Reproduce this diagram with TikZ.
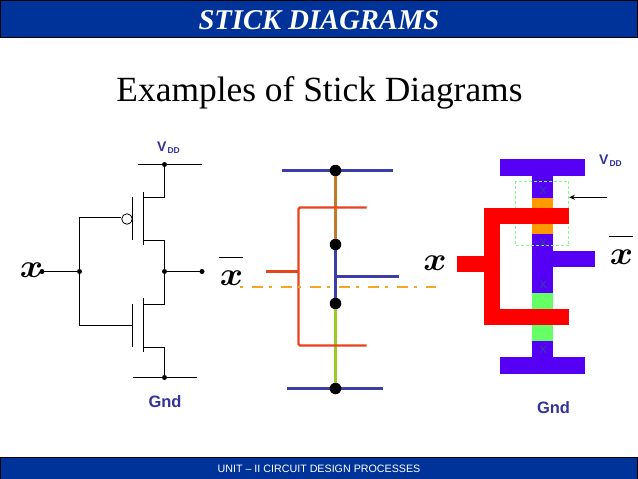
\documentclass[tikz,border=0pt]{standalone}
\usepackage{fontspec}
\setmainfont{Liberation Serif}
\setsansfont{Liberation Sans}
\usetikzlibrary{arrows.meta}
\definecolor{band}{HTML}{003399}
\definecolor{lab}{HTML}{333399}
\definecolor{stickblue}{HTML}{3D3DA8}
\definecolor{stickred}{HTML}{E8431C}
\definecolor{stickbrown}{HTML}{C07A28}
\definecolor{stickgreen}{HTML}{99CC22}
\definecolor{dashor}{HTML}{F5A623}
\definecolor{lpurple}{HTML}{5500F5}
\definecolor{lred}{HTML}{FF0000}
\definecolor{lgreen}{HTML}{66FF66}
\definecolor{lorange}{HTML}{FF9900}
\definecolor{cont}{HTML}{3A38B0}
\newcommand{\varx}{\scalebox{1.42}[1.32]{\fontsize{24.88}{24.88}\selectfont\boldmath$x$}}
\newcommand{\vddtext}{V\raisebox{-1.5pt}{\hspace{1pt}\fontsize{8.5}{8.5}\selectfont DD}}
\tikzset{
  wire/.style={draw=black,line width=1.2pt},
  sdot/.style={circle,fill=black,inner sep=0pt,minimum size=5pt},
  bdot/.style={circle,fill=black,inner sep=0pt,minimum size=11.5pt},
  stick/.style={line width=2.4pt},
  varxn/.style={inner sep=0pt},
  vdd/.style={text=lab,font=\sffamily\bfseries\fontsize{14}{14}\selectfont,inner sep=0pt},
  gnd/.style={text=lab,font=\sffamily\bfseries\fontsize{16.5}{16.5}\selectfont,inner sep=0pt},
  ctc/.style={text=cont,font=\sffamily\fontsize{14}{14}\selectfont,inner sep=0pt},
  bandbox/.style={fill=band,draw=black,line width=1pt},
}
\begin{document}
\begin{tikzpicture}[x=1pt,y=-1pt]
\useasboundingbox (0,0) rectangle (638,479);
\fill[white] (0,0) rectangle (638,479);
% bands
\draw[bandbox] (0.5,0.5) rectangle (637.5,37);
\draw[bandbox] (0.5,457.5) rectangle (637.5,480);
\node[text=white,inner sep=0pt,font=\fontsize{28.6}{28.6}\selectfont\bfseries\itshape] (title) at (319,20.5) {STICK DIAGRAMS};
\node[inner sep=0pt,anchor=base,font=\fontsize{35.4}{35.4}\selectfont] (head) at (319.5,101) {Examples of Stick Diagrams};
\node[text=white,inner sep=0pt,font=\sffamily\fontsize{10.7}{10.7}\selectfont] (foot) at (319,469) {UNIT – II CIRCUIT DESIGN PROCESSES};
% schematic nodes
\node[sdot] (vddn) at (164.5,164.5) {};
\node[sdot] (out) at (164.5,271.5) {};
\node[sdot] (outr) at (202,271.5) {};
\node[sdot] (gndn) at (164.5,377.5) {};
\node[sdot] (inl) at (42,271.5) {};
\node[sdot] (inj) at (79.5,271.5) {};
\node[circle,draw=black,line width=0.8pt,inner sep=0pt,minimum size=10.5pt] (bub) at (127,219) {};
\coordinate (vl) at (138,164.5); \coordinate (vr) at (202,164.5);
\coordinate (gl) at (132.7,377.5); \coordinate (gr) at (197,377.5);
\coordinate (pd) at (143.5,197.5); \coordinate (pdr) at (164.5,197.5);
\coordinate (ps) at (143.5,240.5); \coordinate (psr) at (164.5,240.5);
\coordinate (nd) at (143.5,304.5); \coordinate (ndr) at (164.5,304.5);
\coordinate (ns) at (143.5,347.5); \coordinate (nsr) at (164.5,347.5);
\coordinate (gtop) at (79.5,217.5); \coordinate (gbot) at (79.5,325.5); \coordinate (gbe) at (132.5,325.5);
\draw[wire] (vl) -- (vr);
\draw[wire] (gl) -- (gr);
\draw[wire] (vddn.center) -- (pdr) -- (pd);
\draw[wire] (143.5,192) -- (143.5,245);
\draw[wire] (132.5,197) -- (132.5,240);
\draw[wire] (ps) -- (psr) -- (ndr) -- (nd);
\draw[wire] (143.5,298) -- (143.5,352);
\draw[wire] (132.5,304) -- (132.5,347);
\draw[wire] (ns) -- (nsr) -- (gndn.center);
\draw[wire] (out.center) -- (outr.center);
\draw[wire] (inl.center) -- (inj.center);
\draw[wire] (bub.west |- gtop) -- (gtop) -- (gbot) -- (gbe);
\node[varxn] (xa) at (31.5,270) {\varx};
\node[varxn] (xb) at (231.5,278) {\varx};
\draw[line width=1pt] (219,257.5) -- (243,257.5);
\node[vdd,anchor=west] (v1) at (157,147.5) {\vddtext};
\node[gnd] (g1) at (165,402) {Gnd};
% stick diagram
\coordinate (r1l) at (282,170.5); \coordinate (r1r) at (393,170.5);
\coordinate (r2l) at (287,388.5); \coordinate (r2r) at (382.7,388.5);
\draw[stick,stickblue] (r1l) -- (r1r);
\draw[stick,stickblue] (r2l) -- (r2r);
\node[bdot] (s1) at (335.5,170.5) {};
\node[bdot] (s2) at (335.5,244.5) {};
\node[bdot] (s3) at (335.5,303.5) {};
\node[bdot] (s4) at (335.5,388.5) {};
\draw[stick,stickbrown] (s1) -- (s2);
\draw[stick,stickblue] (s2) -- (s3);
\draw[stick,stickgreen] (s3) -- (s4);
\draw[stick,stickred,rounded corners=1.5pt] (366.7,207.5) -- (298.5,207.5) -- (298.5,345.5) -- (366.7,345.5);
\draw[stick,stickred] (266,271.5) -- (298.5,271.5);
\draw[stick,stickblue] (335.5,276.5) -- (398.7,276.5);
\coordinate (dl) at (240,287); \coordinate (dr) at (436,287);
\draw[dashor,line width=2.4pt,dash pattern=on 2.5pt off 9pt on 11pt off 6.5pt] (dl) -- (dr);
\node[varxn] (xc) at (435,263) {\varx};
% layout
\fill[lpurple] (500,159.3) rectangle (584.7,176);
\fill[lpurple] (500,357) rectangle (584.7,374);
\fill[lpurple] (531.7,176) rectangle (552.7,197.7);
\fill[lorange] (531.7,197.7) rectangle (552.7,234);
\fill[lpurple] (531.7,234) rectangle (552.7,293);
\fill[lgreen] (531.7,293) rectangle (552.7,340.7);
\fill[lpurple] (531.7,340.7) rectangle (552.7,357);
\fill[lpurple] (552.7,251) rectangle (595.3,266.7);
\draw[green!50!white,densely dashed,line width=0.6pt] (515.3,181) rectangle (568.7,245.7);
\fill[lred] (483.7,208.3) rectangle (500,325);
\fill[lred] (483.7,208.3) rectangle (568.7,224);
\fill[lred] (483.7,309.3) rectangle (568.7,325);
\fill[lred] (457.3,256.3) rectangle (483.7,272);
\node[ctc] (c1) at (543.3,190.7) {x};
\node[ctc] (c2) at (543.3,243) {x};
\node[ctc] (c3) at (543.3,285) {x};
\node[ctc] (c4) at (543.3,350) {x};
\coordinate (al) at (569.3,197.3); \coordinate (ar) at (606.7,197.3);
\draw[wire,-{Stealth[length=5.5pt,width=5pt]}] (ar) -- (al);
\node[vdd,anchor=west] (v2) at (599,160.5) {\vddtext};
\node[gnd] (g2) at (553.5,408) {Gnd};
\node[varxn] (xd) at (621.5,257) {\varx};
\draw[line width=1pt] (609,236) -- (633,236);
\end{tikzpicture}
\end{document}
